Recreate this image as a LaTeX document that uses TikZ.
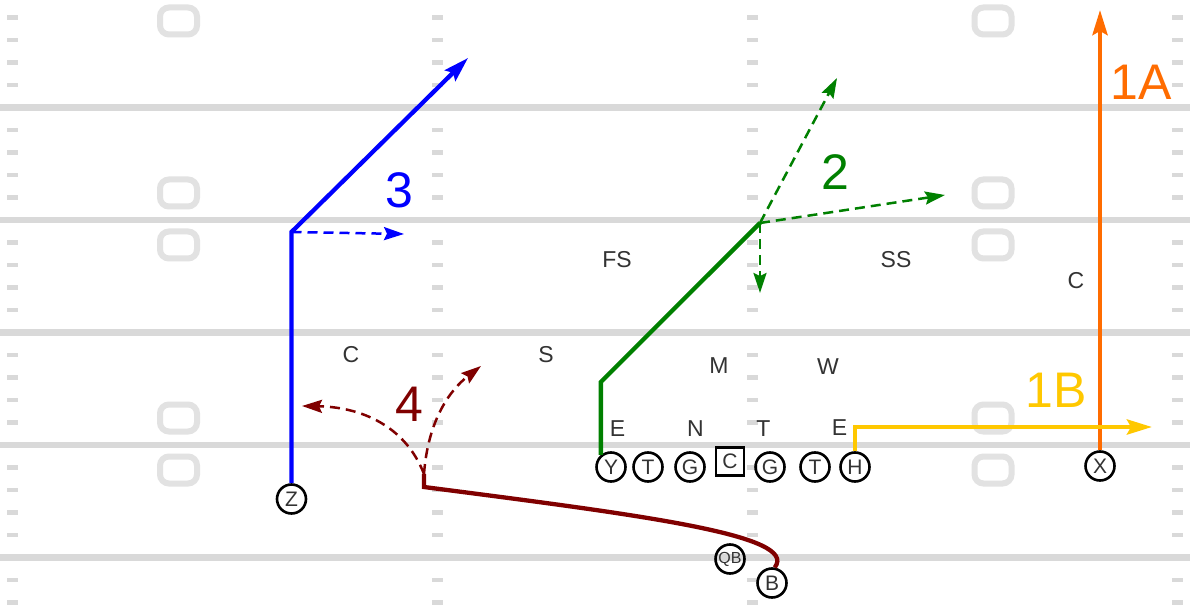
\documentclass[tikz,border=0pt]{standalone}
\usepackage{fontspec}
\setmainfont{Liberation Sans}
\usetikzlibrary{arrows.meta}

\definecolor{fieldgray}{RGB}{217,217,217}
\definecolor{numgray}{RGB}{226,226,226}
\definecolor{textgray}{RGB}{51,51,51}
\definecolor{routeblue}{RGB}{0,0,255}
\definecolor{routegreen}{RGB}{0,128,0}
\definecolor{routeorange}{RGB}{255,108,0}
\definecolor{routeyellow}{RGB}{255,200,0}
\definecolor{routered}{RGB}{128,0,0}

\tikzset{
  yardline/.style={draw=fieldgray, line width=6.5pt},
  hashmark/.style={fill=fieldgray},
  yardnum/.style={draw=numgray, line width=6pt, rounded corners=9pt},
  player/.style={circle, draw, line width=2.6pt, minimum size=29pt, inner sep=0pt,
    text=textgray, font=\fontsize{21}{21}\selectfont},
  snapper/.style={player, rectangle, minimum size=28pt},
  defender/.style={text=textgray, inner sep=0pt, font=\fontsize{23}{23}\selectfont},
  routelabel/.style={inner sep=0pt, font=\fontsize{50}{50}\selectfont},
  route/.style={line width=4.3pt},
  optroute/.style={line width=2.5pt, dash pattern=on 10pt off 6pt},
  bigtip/.style={-{Stealth[length=25pt,width=15pt,inset=4pt]}},
  smalltip/.style={-{Stealth[length=20pt,width=13pt,inset=3pt]}},
}

\begin{document}
\begin{tikzpicture}[x=1pt, y=-1pt]
  \useasboundingbox (0,0) rectangle (1190,609);
  \fill[white] (0,0) rectangle (1190,609);

  % field
  \foreach \y in {107.5,220,332.5,445,557.5}
    \draw[yardline] (0,\y) -- (1190,\y);
  \foreach \x in {12,437,752,1177.5}
    \foreach \y in {17.5,40,62.5,85,130,152.5,175,197.5,242.5,265,287.5,310,
                    355,377.5,400,422.5,467.5,490,512.5,535,580,602.5}
      \fill[hashmark] ({\x-5.5},{\y-2.3}) rectangle ({\x+5.5},{\y+2.3});
  \foreach \x in {178.5,993}
    \foreach \y in {21,193,245,418,470}
      \draw[yardnum] ({\x-18.5},{\y-13.5}) rectangle ({\x+18.5},{\y+13.5});

  % defense
  \node[defender] (fs) at (617,260) {FS};
  \node[defender] (ss) at (896,260) {SS};
  \node[defender] (cbr) at (1076,281) {C};
  \node[defender] (cbl) at (351,355) {C};
  \node[defender] (sam) at (546,355) {S};
  \node[defender] (mike) at (719,366) {M};
  \node[defender] (will) at (828,367) {W};
  \node[defender] (del) at (617.5,429) {E};
  \node[defender] (nose) at (695.5,429) {N};
  \node[defender] (tack) at (763.5,429) {T};
  \node[defender] (der) at (839.5,428) {E};

  % offense
  \node[player] (Y) at (611,467) {Y};
  \node[player] (lt) at (648,467) {T};
  \node[player] (lg) at (690,467) {G};
  \node[snapper] (C) at (730,461.5) {C};
  \node[player] (rg) at (770,467) {G};
  \node[player] (rt) at (815,467) {T};
  \node[player] (H) at (855,467) {H};
  \node[player] (X) at (1100,466) {X};
  \node[player] (Z) at (291.5,499) {Z};
  \node[player, font=\fontsize{16}{16}\selectfont] (QB) at (730,559) {QB};
  \node[player] (B) at (772,583) {B};

  % routes
  \coordinate (Zbreak) at (291.5,232);
  \coordinate (Zpost) at (468,58);
  \coordinate (Zflat) at (404,234);
  \draw[route, routeblue, bigtip] (Z.north) -- (Zbreak) -- (Zpost);
  \draw[optroute, routeblue, smalltip] (Zbreak) -- (Zflat);
  \node[routelabel, text=routeblue] (lab3) at (399,190) {3};

  \coordinate (Ybend) at (601,382);
  \coordinate (Ybreak) at (760,223);
  \coordinate (Ydeep) at (837,78);
  \coordinate (Yout) at (945,195);
  \coordinate (Ysit) at (760,293);
  \draw[route, routegreen] (Y.130) -- (Y.130 |- Ybend) -- (Ybreak);
  \draw[optroute, routegreen, smalltip] (Ybreak) -- (Ydeep);
  \draw[optroute, routegreen, smalltip] (Ybreak) -- (Yout);
  \draw[optroute, routegreen, smalltip] (Ybreak) -- (Ysit);
  \node[routelabel, text=routegreen] (lab2) at (835,172) {2};

  \coordinate (Xgo) at (1100,10);
  \draw[route, routeorange, bigtip] (X.north) -- (Xgo);
  \node[routelabel, text=routeorange] (lab1a) at (1141,82) {1A};

  \coordinate (Hbend) at (855,427);
  \coordinate (Hout) at (1152,427);
  \draw[route, routeyellow, bigtip] (H.north) -- (Hbend) -- (Hout);
  \node[routelabel, text=routeyellow] (lab1b) at (1056,390) {1B};

  \coordinate (Bcut) at (424,487);
  \coordinate (Bfork) at (424,474);
  \coordinate (Bflat) at (302,406);
  \coordinate (Bseam) at (481,366);
  \draw[route, routered] (B.80) .. controls (800,535) and (640,515) .. (Bcut) -- (Bfork);
  \draw[optroute, routered, smalltip] (Bfork) .. controls (405,425) and (360,407) .. (Bflat);
  \draw[optroute, routered, smalltip] (Bfork) .. controls (428,420) and (450,390) .. (Bseam);
  \node[routelabel, text=routered] (lab4) at (409,404) {4};
\end{tikzpicture}
\end{document}
